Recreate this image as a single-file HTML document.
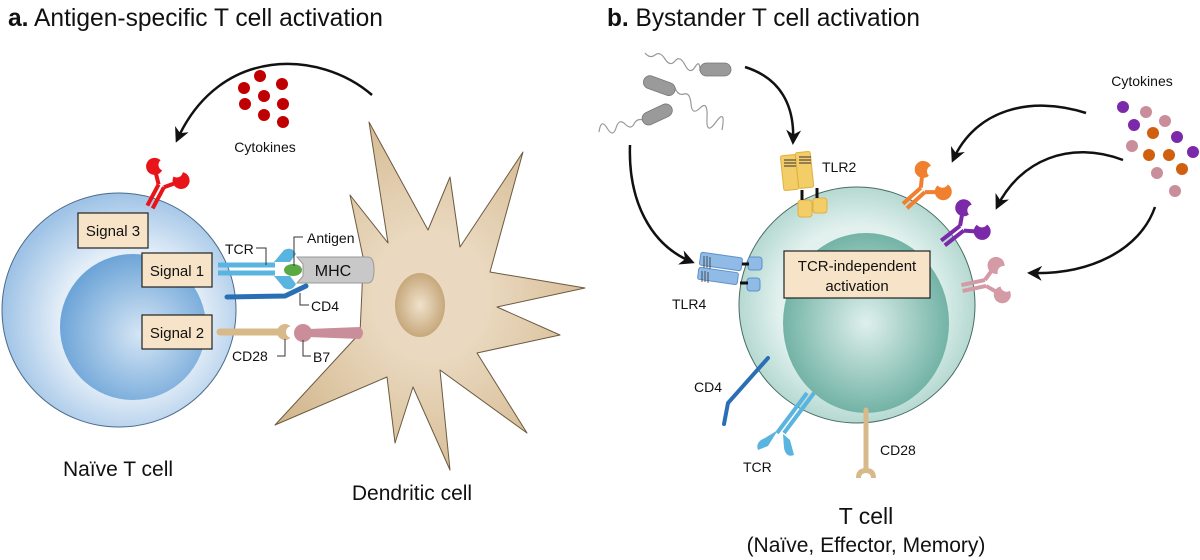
<!DOCTYPE html>
<html><head><meta charset="utf-8"><style>html,body{margin:0;padding:0;background:#fff}svg{display:block}text{font-family:"Liberation Sans",Arial,sans-serif;fill:#111}</style></head>
<body>
<svg width="1200" height="560" viewBox="0 0 1200 560" xmlns="http://www.w3.org/2000/svg">
<defs>
<radialGradient id="lc" cx="0.55" cy="0.55" r="0.55"><stop offset="0.55" stop-color="#e4eef8"/><stop offset="1" stop-color="#9fc3e6"/></radialGradient>
<radialGradient id="ln" cx="0.55" cy="0.55" r="0.55"><stop offset="0" stop-color="#d6e6f5"/><stop offset="1" stop-color="#6ea5d8"/></radialGradient>
<radialGradient id="rc" cx="0.5" cy="0.5" r="0.55"><stop offset="0.6" stop-color="#e2f1ee"/><stop offset="1" stop-color="#a8d2c9"/></radialGradient>
<radialGradient id="rn" cx="0.5" cy="0.5" r="0.55"><stop offset="0" stop-color="#dff0ec"/><stop offset="1" stop-color="#68ad9f"/></radialGradient>
<radialGradient id="dc" cx="0.5" cy="0.5" r="0.6"><stop offset="0.3" stop-color="#ead9c0"/><stop offset="1" stop-color="#d2b68c"/></radialGradient>
<radialGradient id="dn" cx="0.5" cy="0.5" r="0.55"><stop offset="0" stop-color="#efe2cc"/><stop offset="1" stop-color="#c3a273"/></radialGradient>
<marker id="ah" viewBox="0 0 10 10" refX="8" refY="5" markerWidth="6" markerHeight="6" orient="auto"><path d="M0,0 L10,5 L0,10 L3,5 z" fill="#111"/></marker>
<g id="rec">
<path d="M0,-3 L24,-3 M0,3 L24,3" stroke-width="4" fill="none"/>
<path d="M24,-3 L34,-12 M24,3 L34,12" stroke-width="4" fill="none"/>
<circle cx="38" cy="-15" r="8"/><circle cx="38" cy="15" r="8"/>
<circle cx="44" cy="-7" r="6" fill="#fff" stroke="none"/><circle cx="44" cy="7" r="6" fill="#fff" stroke="none"/>
</g>
</defs>

<text x="8" y="26" font-size="25" textLength="375" lengthAdjust="spacingAndGlyphs"><tspan font-weight="bold">a.</tspan> Antigen-specific T cell activation</text>
<text x="607" y="26" font-size="25" textLength="313" lengthAdjust="spacingAndGlyphs"><tspan font-weight="bold">b.</tspan> Bystander T cell activation</text>

<!-- Dendritic cell -->
<polygon points="350,195 388,243 369,122 428,230 450,177 460,247 523,152 490,272 585,288 497,307 560,335 477,353 527,433 440,370 450,470 413,387 395,443 387,377 275,425 360,333 362,290 363,257" fill="url(#dc)" stroke="#6b5a40" stroke-width="1" stroke-linejoin="round"/>
<ellipse cx="420" cy="305" rx="25" ry="32" fill="url(#dn)"/>

<!-- Left T cell -->
<circle cx="119" cy="310" r="117" fill="url(#lc)" stroke="#4a6b8a" stroke-width="1"/>
<circle cx="133" cy="327" r="73" fill="url(#ln)"/>

<!-- red receptor -->
<g fill="#e8141a" stroke="#e8141a" transform="translate(150,207) rotate(-62)"><use href="#rec"/></g>

<!-- arrow left -->
<path d="M372,95 C320,50 220,45 177,140" fill="none" stroke="#111" stroke-width="2.5" marker-end="url(#ah)"/>
<g fill="#c00000">
<circle cx="260" cy="76" r="6"/><circle cx="282" cy="84" r="6"/><circle cx="244" cy="88" r="6"/><circle cx="264" cy="96" r="6"/><circle cx="245" cy="104" r="6"/><circle cx="283" cy="104" r="6"/><circle cx="264" cy="115" r="6"/><circle cx="283" cy="122" r="6"/>
</g>
<text x="265" y="152" font-size="14" text-anchor="middle">Cytokines</text>

<!-- TCR left -->
<path d="M218,265 L275,265 M218,273 L275,273" stroke="#5ab4e0" stroke-width="5" fill="none"/>
<path d="M274,262 L284,250 Q292,246 296,254 L290,262 Z M274,276 L284,288 Q292,292 296,284 L290,276 Z" fill="#5ab4e0"/>
<path d="M297,257 L368,257 Q374,257 374,270 Q374,283 368,283 L297,283 L303,276 L303,264 Z" fill="#c8c8c8" stroke="#999" stroke-width="1"/>
<text x="333" y="276" font-size="16" text-anchor="middle">MHC</text>
<ellipse cx="293" cy="270" rx="9" ry="6" fill="#5aaa44"/>
<path d="M227,297 L285,296 L306,286" stroke="#2a6fb5" stroke-width="5" fill="none" stroke-linecap="round"/>
<path d="M256,248 L266,248 L266,265 M303,237 L294,237 L294,266 M300,293 L300,305 L309,305" stroke="#333" stroke-width="1" fill="none"/>
<text x="225" y="254" font-size="14">TCR</text>
<text x="307" y="243" font-size="14">Antigen</text>
<text x="311" y="311" font-size="14">CD4</text>
<!-- CD28/B7 -->
<path d="M220,332 L280,332" stroke="#d8b98a" stroke-width="7" stroke-linecap="round"/>
<circle cx="285" cy="332" r="8" fill="#d8b98a"/><circle cx="292" cy="332" r="6" fill="#fff"/>
<circle cx="303" cy="333" r="9" fill="#c98e9a"/>
<path d="M308,329 L360,327 Q366,333 360,339 L308,337 Z" fill="#c98e9a"/>
<path d="M285,339 L285,356 L277,356 M303,340 L303,356 L311,356" stroke="#333" stroke-width="1" fill="none"/>
<text x="232" y="361" font-size="14">CD28</text>
<text x="313" y="362" font-size="14">B7</text>

<!-- signal boxes -->
<g fill="#f7e4c8" stroke="#222" stroke-width="1.2">
<rect x="78" y="213" width="70" height="35"/><rect x="142" y="253" width="70" height="34"/><rect x="142" y="315" width="70" height="34"/>
</g>
<text x="113" y="236" font-size="15" text-anchor="middle">Signal 3</text>
<text x="177" y="276" font-size="15" text-anchor="middle">Signal 1</text>
<text x="177" y="338" font-size="15" text-anchor="middle">Signal 2</text>

<text x="118" y="476" font-size="21" text-anchor="middle">Naïve T cell</text>
<text x="412" y="500" font-size="21" text-anchor="middle">Dendritic cell</text>

<!-- ===== b ===== -->
<!-- bacteria -->
<g fill="none" stroke="#999" stroke-width="1.2">
<path d="M645,53 q5,6 10,2 t10,4 t10,2 t10,4 t10,2 t5,4"/>
<path d="M675,88 q3,8 9,6 t7,10 t9,4 t7,10 t9,4 t6,8"/>
<path d="M643,120 q-6,-2 -9,4 t-9,0 t-9,4 t-9,0 t-8,4"/>
</g>
<g fill="#9a9a9a" stroke="#777" stroke-width="0.8">
<rect x="700" y="63" width="31" height="13" rx="6.5"/>
<rect x="643" y="79" width="33" height="13" rx="6.5" transform="rotate(20 659 85)"/>
<rect x="641" y="108" width="32" height="13" rx="6.5" transform="rotate(-25 657 114)"/>
</g>
<path d="M745,67 C780,78 795,105 793,142" fill="none" stroke="#111" stroke-width="2.5" marker-end="url(#ah)"/>
<path d="M630,145 C628,200 650,245 692,262" fill="none" stroke="#111" stroke-width="2.5" marker-end="url(#ah)"/>

<!-- right cell -->
<circle cx="857" cy="305" r="118" fill="url(#rc)" stroke="#4a6b66" stroke-width="1"/>
<ellipse cx="866" cy="323" rx="83" ry="90" fill="url(#rn)"/>

<!-- TLR2 -->
<g fill="#f3cd68" stroke="#e0b040" stroke-width="1">
<rect x="782" y="155" width="15" height="35" rx="2" transform="rotate(-6 790 172)"/>
<rect x="797" y="152" width="15" height="36" rx="2" transform="rotate(-6 804 170)"/>
<rect x="798" y="200" width="14" height="17" rx="3"/>
<rect x="813" y="198" width="14" height="15" rx="3"/>
</g>
<path d="M784,160 h12 M784,163 h12 M784,166 h12 M799,157 h12 M799,160 h12 M799,163 h12" stroke="#333" stroke-width="1"/>
<path d="M802,190 v10 M817,188 v10" stroke="#111" stroke-width="3"/>
<text x="822" y="172" font-size="14">TLR2</text>

<!-- TLR4 -->
<g fill="#8fbbe6" stroke="#5e90c8" stroke-width="1">
<rect x="700" y="255" width="42" height="13" rx="2" transform="rotate(8 721 261)"/>
<rect x="698" y="270" width="40" height="12" rx="2" transform="rotate(8 718 276)"/>
<rect x="748" y="257" width="14" height="13" rx="3"/>
<rect x="747" y="278" width="13" height="13" rx="3"/>
</g>
<path d="M704,256 v12 M707,256 v12 M710,257 v12 M702,271 v11 M705,271 v11 M708,272 v11" stroke="#333" stroke-width="0.8"/>
<path d="M742,264 h7 M740,283 h8" stroke="#111" stroke-width="3"/>
<text x="672" y="309" font-size="14">TLR4</text>

<!-- TCR-independent box -->
<rect x="784" y="251" width="146" height="47" fill="#f7e4c8" stroke="#222" stroke-width="1.2"/>
<text x="857" y="271" font-size="15" text-anchor="middle">TCR-independent</text>
<text x="857" y="291" font-size="15" text-anchor="middle">activation</text>

<!-- cytokine receptors -->
<g fill="#f08030" stroke="#f08030" transform="translate(905,206) rotate(-42)"><use href="#rec"/></g>
<g fill="#7a2aa8" stroke="#7a2aa8" transform="translate(943,243) rotate(-38)"><use href="#rec"/></g>
<g fill="#d49aa6" stroke="#d49aa6" transform="translate(962,288) rotate(-12)"><use href="#rec"/></g>

<!-- cytokines dots -->
<g>
<circle cx="1123" cy="107" r="6" fill="#7a2aa8"/><circle cx="1146" cy="112" r="6" fill="#c98e9a"/><circle cx="1165" cy="121" r="6" fill="#c98e9a"/><circle cx="1134" cy="125" r="6" fill="#7a2aa8"/><circle cx="1153" cy="133" r="6" fill="#d06010"/><circle cx="1177" cy="137" r="6" fill="#7a2aa8"/><circle cx="1132" cy="146" r="6" fill="#c98e9a"/><circle cx="1149" cy="155" r="6" fill="#d06010"/><circle cx="1169" cy="155" r="6" fill="#d06010"/><circle cx="1193" cy="152" r="6" fill="#7a2aa8"/><circle cx="1157" cy="173" r="6" fill="#c98e9a"/><circle cx="1182" cy="169" r="6" fill="#d06010"/><circle cx="1175" cy="191" r="6" fill="#c98e9a"/>
</g>
<text x="1142" y="86" font-size="14" text-anchor="middle">Cytokines</text>
<path d="M1086,113 C1030,95 975,110 953,160" fill="none" stroke="#111" stroke-width="2.5" marker-end="url(#ah)"/>
<path d="M1123,160 C1070,140 1020,160 997,207" fill="none" stroke="#111" stroke-width="2.5" marker-end="url(#ah)"/>
<path d="M1155,207 C1140,250 1090,275 1030,273" fill="none" stroke="#111" stroke-width="2.5" marker-end="url(#ah)"/>

<!-- bottom receptors -->
<path d="M768,358 L728,403 L724,424" stroke="#2a6fb5" stroke-width="4" fill="none" stroke-linecap="round"/>
<path d="M807,393 L777,433 M814,393 L784,433" stroke="#5ab4e0" stroke-width="4" fill="none"/>
<path d="M778,430 L765,438 Q755,442 758,450 L768,446 Z M783,434 L784,448 Q786,458 794,455 L790,440 Z" fill="#5ab4e0"/>
<path d="M866,410 L866,470" stroke="#d8b98a" stroke-width="5" stroke-linecap="round"/>
<path d="M856,478 Q856,468 866,468 Q876,468 876,478 L871,478 Q871,473 866,473 Q861,473 861,478 Z" fill="#d8b98a"/>
<text x="694" y="392" font-size="14">CD4</text>
<text x="743" y="472" font-size="14">TCR</text>
<text x="880" y="455" font-size="14">CD28</text>

<text x="866" y="524" font-size="23" text-anchor="middle">T cell</text>
<text x="866" y="552" font-size="21" text-anchor="middle">(Naïve, Effector, Memory)</text>
</svg>
</body></html>
